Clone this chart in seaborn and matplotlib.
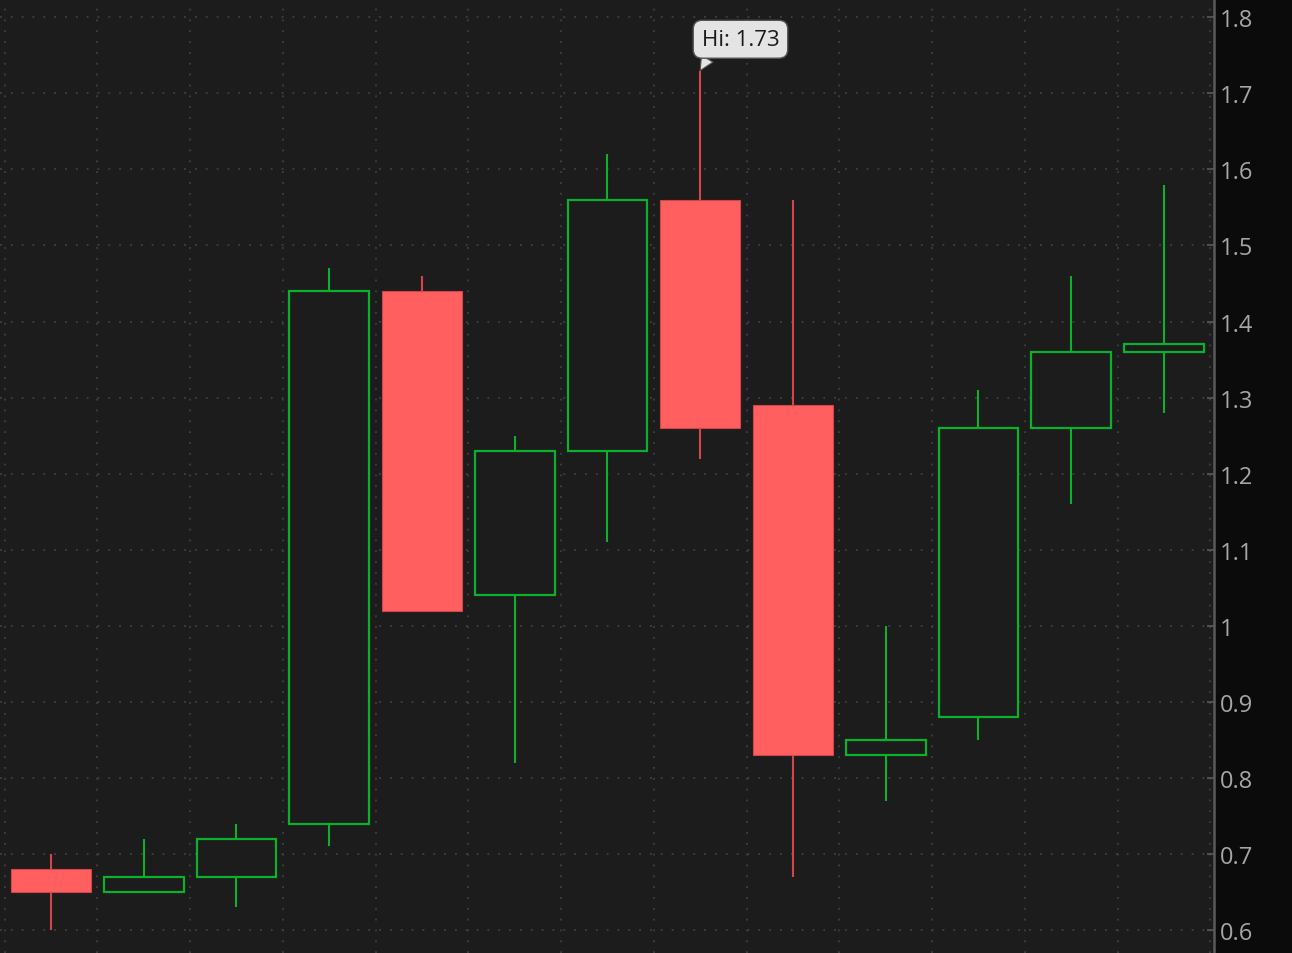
import numpy as np
import matplotlib
matplotlib.use("Agg")
import matplotlib.pyplot as plt
import matplotlib.ticker as mticker
import seaborn as sns

# OHLC values
opens = [0.68, 0.65, 0.67, 0.74, 1.44, 1.04, 1.23, 1.56, 1.29, 0.83, 0.88, 1.26, 1.36]
highs = [0.70, 0.72, 0.74, 1.47, 1.46, 1.25, 1.62, 1.73, 1.56, 1.00, 1.31, 1.46, 1.58]
lows = [0.60, 0.65, 0.63, 0.71, 1.02, 0.82, 1.11, 1.22, 0.67, 0.77, 0.85, 1.16, 1.28]
closes = [0.65, 0.67, 0.72, 1.44, 1.02, 1.23, 1.56, 1.26, 0.83, 0.85, 1.26, 1.36, 1.37]
y_ticks = [0.6, 0.7, 0.8, 0.9, 1.0, 1.1, 1.2, 1.3, 1.4, 1.5, 1.6, 1.7, 1.8]
hi_label = "Hi: 1.73"

BG_PLOT = "#1c1c1c"
BG_FIG = "#0b0b0b"
GREEN = "#0cb02c"
RED_FILL = "#ff5f5f"
RED_EDGE = "#d2454b"
GRID = "#404040"
TEXT = "#a6a6a6"

sns.set_theme(style="dark")
plt.rcParams["font.family"] = ["Open Sans", "DejaVu Sans"]

o = np.array(opens)
h = np.array(highs)
l = np.array(lows)
c = np.array(closes)
x = np.arange(len(o))
up = c >= o
top = np.maximum(o, c)
bot = np.minimum(o, c)

fig = plt.figure(figsize=(12.92, 9.54), dpi=100, facecolor=BG_FIG)
ax = fig.add_axes([0, 0, 1214 / 1292, 1])
ax.set_facecolor(BG_PLOT)

# grid
for yv in y_ticks:
    ax.axhline(yv, color=GRID, lw=1.3, ls=(0, (1, 5)), zorder=0)
for xv in np.arange(-0.5, len(o) + 0.5, 1.0):
    ax.axvline(xv, color=GRID, lw=1.3, ls=(0, (1, 5)), zorder=0)

# wicks (upper and lower segments, not through hollow body)
wick_colors = [GREEN if u else RED_EDGE for u in up]
ax.vlines(x, top, h, colors=wick_colors, lw=1.5, zorder=2)
ax.vlines(x, l, bot, colors=wick_colors, lw=1.5, zorder=2)

# bodies
w = 0.86
ax.bar(x[up], (top - bot)[up], bottom=bot[up], width=w, facecolor=BG_PLOT,
       edgecolor=GREEN, linewidth=1.6, zorder=3)
ax.bar(x[~up], (top - bot)[~up], bottom=bot[~up], width=w, facecolor=RED_FILL,
       edgecolor=RED_EDGE, linewidth=0.8, zorder=3)

# high tooltip
i_hi = int(np.argmax(h))
ax.annotate(hi_label, xy=(x[i_hi], h[i_hi]), xytext=(29, 22.5), textcoords="offset points",
            ha="center", va="center", fontsize=16, color="#1a1a1a",
            bbox=dict(boxstyle="round,pad=0.38,rounding_size=0.4", fc="#e4e4e4", ec="#555555", lw=1),
            arrowprops=dict(arrowstyle="wedge,tail_width=0.6,shrink_factor=0.5", fc="#e4e4e4",
                            ec="#555555", lw=0.8, shrinkA=0, shrinkB=0, relpos=(0.14, 0.0)),
            zorder=5)

ax.set_xlim(-0.55, 12.54)
ax.set_ylim(0.570, 1.824)
ax.set_xticks([])
ax.yaxis.tick_right()
ax.set_yticks(y_ticks)
ax.yaxis.set_major_formatter(mticker.FormatStrFormatter("%g"))
ax.tick_params(axis="y", direction="in", length=5, width=1.2, color="#5a5a5a",
               labelcolor=TEXT, labelsize=17, pad=4, right=True, left=False)
for s in ["left", "top", "bottom"]:
    ax.spines[s].set_visible(False)
ax.spines["right"].set_color("#5a5a5a")
ax.spines["right"].set_linewidth(1.8)
ax.grid(False)

fig.savefig("out.png", dpi=100, facecolor=BG_FIG)
